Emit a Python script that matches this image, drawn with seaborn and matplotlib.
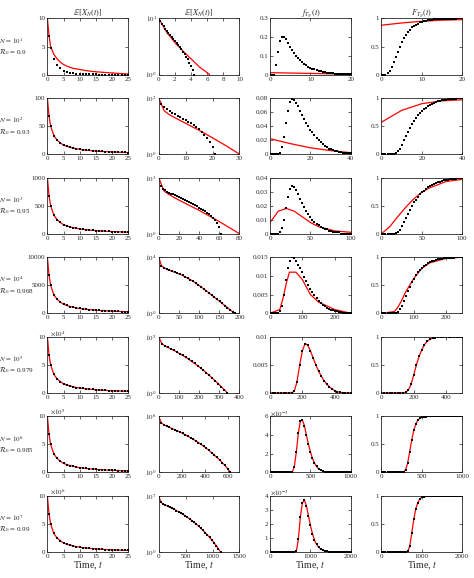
import numpy as np
import matplotlib
matplotlib.use("Agg")
import matplotlib.pyplot as plt
import seaborn as sns

sns.set_style("ticks")
plt.rcParams['font.family'] = ['Liberation Serif', 'DejaVu Serif']
plt.rcParams['mathtext.fontset'] = 'stix'

# row settings
row_n = [1, 2, 3, 4, 5, 6, 7]
row_r0 = ['0.9', '0.93', '0.95', '0.968', '0.979', '0.985', '0.99']

# column 1: mean, as a fraction of N, sampled t = 0, 0.5, 1, 2, ..., 25
t1 = [0, 0.5] + list(range(1, 26))
m1_black_r1 = [1, .68, .47, .28, .17, .11, .07, .05, .035, .025, .018, .012, .008, .005,
               .003, .002, .001, 0, 0, 0, 0, 0, 0, 0, 0, 0, 0]
m1_red_r1 = [1, .70, .50, .36, .28, .22, .18, .15, .13, .11, .10, .09, .08, .07,
             .062, .055, .05, .045, .04, .036, .032, .028, .024, .02, .016, .013, .01]
m1_all = [1, .68, .50, .33, .25, .20, .16, .14, .12, .11, .095, .085, .078, .07, .065,
          .06, .055, .05, .047, .044, .041, .038, .036, .033, .031, .029, .027]

# column 2: log10 of mean (black samples evenly spaced from 0 to c2_bend)
c2_xmax = [10, 30, 80, 200, 400, 700, 1500]
c2_xt = [[0, 2, 4, 6, 8, 10], [0, 10, 20, 30], [0, 20, 40, 60, 80],
         [0, 50, 100, 150, 200], [0, 100, 200, 300, 400], [0, 200, 400, 600],
         [0, 500, 1000, 1500]]
c2_bend = [4.4, 21, 62, 190, 340, 620, 1150]
c2_by = [[1, .95, .9, .86, .82, .78, .74, .70, .67, .63, .6, .56, .52, .49, .45, .41, .37,
          .32, .27, .21, .15, .08, 0],
         [2, 1.8, 1.68, 1.6, 1.53, 1.47, 1.42, 1.37, 1.32, 1.27, 1.22, 1.16, 1.1, 1.03, .96,
          .88, .79, .68, .56, .42, .25, 0],
         [3, 2.55, 2.4, 2.32, 2.25, 2.2, 2.15, 2.1, 2.05, 2.0, 1.95, 1.9, 1.85, 1.8, 1.75,
          1.7, 1.64, 1.58, 1.52, 1.46, 1.4, 1.34, 1.27, 1.2, 1.12, 1.04, .95, .85, .73, .58,
          .38, 0],
         [4, 3.4, 3.25, 3.15, 3.07, 3.0, 2.93, 2.86, 2.78, 2.7, 2.6, 2.5, 2.4, 2.28, 2.15,
          2.02, 1.88, 1.74, 1.6, 1.45, 1.3, 1.15, 1.0, .85, .7, .55, .4, .25, .1, 0],
         [5, 4.4, 4.2, 4.05, 3.93, 3.8, 3.65, 3.5, 3.35, 3.18, 3.0, 2.82, 2.63, 2.43, 2.22,
          2.0, 1.78, 1.55, 1.3, 1.05, .8, .53, .27, 0],
         [6, 5.3, 5.1, 4.95, 4.82, 4.7, 4.58, 4.45, 4.32, 4.18, 4.03, 3.88, 3.72, 3.55, 3.38,
          3.2, 3.0, 2.8, 2.58, 2.35, 2.1, 1.85, 1.6, 1.33, 1.05, .75, .4, 0],
         [7, 6.2, 6.0, 5.85, 5.72, 5.6, 5.47, 5.33, 5.18, 5.03, 4.87, 4.7, 4.52, 4.33, 4.13,
          3.92, 3.7, 3.47, 3.23, 2.97, 2.7, 2.42, 2.13, 1.82, 1.5, 1.15, .8, .4, 0]]
c2_rx = [[0, 1, 2, 3, 4, 5, 6.3],
         [0, 2, 4, 6, 10, 15, 20, 25, 30],
         [0, 5, 10, 20, 40, 60, 80]]
c2_ry = [[1, .75, .57, .42, .28, .14, 0],
         [2, 1.55, 1.4, 1.3, 1.1, .85, .58, .3, 0],
         [3, 2.3, 2.1, 1.8, 1.25, .65, 0]]

# column 3: density (black samples evenly spaced over the x range)
c3_xmax = [20, 40, 100, 250, 500, 1000, 2000]
c3_ymax = [0.3, 0.08, 0.04, 0.015, 0.01, 6, 4]
c3_yt = [[0, .1, .2, .3], [0, .02, .04, .06, .08], [0, .01, .02, .03, .04],
         [0, .005, .01, .015], [0, .005, .01], [0, 2, 4, 6], [0, 1, 2, 3, 4]]
c3_by = [[0, 0, 0, .05, .12, .18, .2, .2, .19, .17, .15, .13, .115, .1, .088, .077, .066,
          .057, .05, .043, .037, .032, .027, .023, .02, .017, .014, .012, .01, .008, .007,
          .006, .005, .004, .003, .003, .002, .002, .001, .001, .001],
         [0, 0, 0, 0, 0, .002, .01, .025, .045, .062, .074, .078, .077, .073, .068, .062,
          .056, .05, .045, .04, .035, .031, .027, .023, .02, .017, .014, .012, .01, .008,
          .007, .006, .005, .004, .003, .003, .002, .002, .001, .001, .001],
         [0, 0, 0, 0, 0, .001, .004, .01, .018, .026, .032, .034, .033, .031, .028, .025,
          .022, .019, .016, .014, .012, .01, .008, .007, .006, .005, .004, .003, .003, .002,
          .002, .0015, .001, .001, .001, 0, 0, 0, 0, 0, 0],
         [0, 0, 0, 0, 0, .0005, .002, .005, .009, .012, .014, .015, .0148, .014, .013, .012,
          .011, .0098, .0086, .0075, .0065, .0056, .0048, .004, .0034, .0028, .0023, .0019,
          .0015, .0012, .001, .0008, .0006, .0005, .0004, .0003, .0002, .0001, 0, 0, 0],
         [0, 0, 0, 0, 0, 0, 0, 0, 0, .0003, .002, .005, .0075, .0088, .0085, .0075, .0062,
          .005, .0039, .003, .0022, .0016, .0011, .0007, .0004, .0002, .0001, 0, 0, 0, 0],
         [0, 0, 0, 0, 0, 0, 0, 0, 0, 0, 0, .05, .6, 2.2, 4.2, 5.5, 5.6, 5.0, 4.0, 3.0, 2.2,
          1.5, 1.0, .65, .4, .25, .15, .09, .05, .03, .01, 0, 0, 0, 0, 0, 0, 0, 0, 0, 0],
         [0, 0, 0, 0, 0, 0, 0, 0, 0, 0, 0, 0, 0, .05, .9, 2.5, 3.5, 3.7, 3.3, 2.6, 1.9, 1.3,
          .85, .55, .35, .22, .13, .07, .04, .02, .01, 0, 0, 0, 0, 0, 0, 0, 0, 0, 0]]
c3_rx = [[0, 20], [0, 10, 20, 30, 40],
         [0, 10, 20, 30, 40, 50, 60, 80, 100],
         [0, 30, 40, 50, 60, 70, 80, 100, 125, 150, 200, 250]]
c3_ry = [[.01, .002], [.022, .015, .009, .005, .002],
         [.008, .016, .018, .016, .012, .008, .005, .002, .001],
         [0, .001, .004, .008, .011, .011, .011, .009, .005, .003, .001, 0]]

# column 4: cdf (black samples evenly spaced over the x range)
c4_by = [[0, 0, 0, .02, .06, .13, .22, .32, .41, .5, .58, .65, .71, .76, .8, .84, .87, .89,
          .91, .93, .94, .95, .96, .97, .975, .98, .985, .988, .99, .992, .994, .995, .996,
          .997, .998, .998, .999, .999, 1, 1, 1],
         [0, 0, 0, 0, 0, 0, .002, .02, .05, .1, .17, .25, .33, .4, .47, .53, .59, .64, .69,
          .73, .77, .8, .83, .855, .875, .895, .91, .925, .94, .95, .96, .967, .973, .978,
          .982, .986, .989, .991, .993, .995, .996],
         [0, 0, 0, 0, 0, 0, .002, .01, .03, .07, .13, .2, .28, .36, .43, .5, .56, .61, .66,
          .7, .74, .77, .8, .83, .85, .87, .89, .9, .92, .93, .94, .95, .955, .96, .97, .975,
          .98, .983, .986, .99, .99],
         [0, 0, 0, 0, 0, 0, .003, .01, .03, .07, .13, .21, .3, .39, .47, .55, .62, .68, .73,
          .77, .81, .84, .87, .89, .91, .925, .94, .95, .96, .968, .975, .98, .984, .988,
          .99, .992, .994, .996, .997, .998, .999],
         [0, 0, 0, 0, 0, 0, 0, 0, 0, .01, .05, .15, .32, .5, .65, .77, .86, .92, .955, .975,
          .987, .994, .998, 1, 1, 1, 1, 1, 1, 1, 1],
         [0, 0, 0, 0, 0, 0, 0, 0, 0, 0, 0, .005, .05, .17, .37, .58, .75, .86, .93, .965,
          .983, .992, .997, 1, 1, 1, 1, 1, 1, 1, 1, 1, 1, 1, 1, 1, 1, 1, 1, 1, 1],
         [0, 0, 0, 0, 0, 0, 0, 0, 0, 0, 0, 0, 0, .01, .1, .33, .58, .77, .88, .945, .975,
          .99, .996, 1, 1, 1, 1, 1, 1, 1, 1, 1, 1, 1, 1, 1, 1, 1, 1, 1, 1]]
c4_rx = [[0, 5, 10, 15, 20], [0, 10, 20, 30, 40],
         [0, 10, 20, 30, 40, 50, 60, 80, 100],
         [0, 40, 50, 60, 75, 100, 125, 150, 200, 250]]
c4_ry = [[.88, .92, .95, .97, .98], [.57, .78, .9, .95, .97],
         [0, .12, .3, .47, .62, .74, .82, .93, .97],
         [0, .03, .1, .2, .38, .62, .8, .9, .98, 1]]

fs = 5
fig, axes = plt.subplots(7, 4, figsize=(4.74, 5.78), dpi=100)
fig.subplots_adjust(left=0.1, right=0.975, top=0.968, bottom=0.045, hspace=0.42, wspace=0.38)


def draw(ax, bx, by, rx, ry):
    sns.lineplot(x=rx, y=ry, ax=ax, color='red', linewidth=0.9, zorder=2)
    sns.scatterplot(x=bx, y=by, ax=ax, color='black', marker='s', s=3, linewidth=0, zorder=3)


for i in range(7):
    n = 10 ** row_n[i]
    # column 1
    ax = axes[i, 0]
    top = 10 if i >= 4 else n
    b = m1_black_r1 if i == 0 else m1_all
    r = m1_red_r1 if i == 0 else m1_all
    draw(ax, t1, [v * top for v in b], t1, [v * top for v in r])
    ax.set_xlim(0, 25)
    ax.set_ylim(0, top)
    ax.set_yticks([0, top / 2, top])
    ax.set_yticklabels(['0', f'{top / 2:g}', f'{top:g}'])
    if i >= 4:
        ax.text(0.03, 1.02, r'$\times10^{%d}$' % (row_n[i] - 1), transform=ax.transAxes, fontsize=fs)
    ax.text(-0.6, 0.5, r'$N\,=\,10^{%d}$' % row_n[i] + '\n' + r'$\mathcal{R}_0\,=\,$' + row_r0[i],
            transform=ax.transAxes, fontsize=fs, va='center', ha='left')
    ax.set_xticks([0, 5, 10, 15, 20, 25])

    # column 2 (red matches the simulation from row 4 on)
    ax = axes[i, 1]
    bx = np.linspace(0, c2_bend[i], len(c2_by[i]))
    if i < 3:
        rx, ry = c2_rx[i], c2_ry[i]
    else:
        rx, ry = bx, c2_by[i]
    draw(ax, bx, [10 ** v for v in c2_by[i]], rx, [10 ** v for v in ry])
    ax.set_yscale('log')
    ax.set_ylim(1, n)
    ax.set_xlim(0, c2_xmax[i])
    ax.set_yticks([1, n])
    ax.set_yticklabels([r'$10^0$', r'$10^{%d}$' % row_n[i]])
    ax.minorticks_off()
    ax.set_xticks(c2_xt[i])

    # column 3
    ax = axes[i, 2]
    bx = np.linspace(0, c3_xmax[i], len(c3_by[i]))
    if i < 4:
        rx, ry = c3_rx[i], c3_ry[i]
    else:
        rx, ry = bx, c3_by[i]
    draw(ax, bx, c3_by[i], rx, ry)
    ax.set_xlim(0, c3_xmax[i])
    ax.set_ylim(0, c3_ymax[i])
    ax.set_yticks(c3_yt[i])
    ax.set_yticklabels([f'{v:g}' for v in c3_yt[i]])
    if i >= 5:
        ax.text(0.0, 1.02, r'$\times10^{-3}$', transform=ax.transAxes, fontsize=fs)

    # column 4
    ax = axes[i, 3]
    bx = np.linspace(0, c3_xmax[i], len(c4_by[i]))
    if i < 4:
        rx, ry = c4_rx[i], c4_ry[i]
    else:
        rx, ry = bx, c4_by[i]
    draw(ax, bx, c4_by[i], rx, ry)
    ax.set_xlim(0, c3_xmax[i])
    ax.set_ylim(0, 1.0)
    ax.set_yticks([0, 0.5, 1])
    ax.set_yticklabels(['0', '0.5', '1'])

for ax in axes.flat:
    ax.tick_params(direction='in', labelsize=fs, length=2, width=0.5, pad=1.5, top=True, right=True)
    for s in ax.spines.values():
        s.set_linewidth(0.6)

titles = [r'$\mathbb{E}[X_N(t)]$', r'$\mathbb{E}[X_N(t)]$', r'$f_{T_N}(t)$', r'$F_{T_N}(t)$']
for j in range(4):
    axes[0, j].set_title(titles[j], fontsize=6, pad=2)
    axes[6, j].set_xlabel('Time, $t$', fontsize=7, labelpad=0)

fig.savefig('out.png', dpi=100)
